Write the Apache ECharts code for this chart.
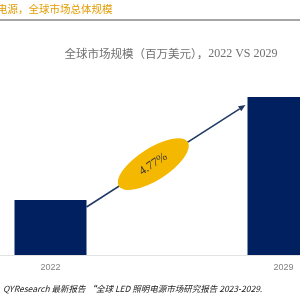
<!DOCTYPE html>
<html>
<head>
<meta charset="utf-8">
<script src="https://cdn.jsdelivr.net/npm/echarts@6/dist/echarts.min.js"></script>
<style>
  html, body { margin: 0; padding: 0; background: #fff; }
  #chart { width: 300px; height: 300px; }
</style>
</head>
<body>
<div id="chart"></div>
<script>
const years = ['2022', '2029'];
const marketSize = [55, 158];
const cagrLabel = '4.77%';

const chartDom = document.getElementById('chart');
const myChart = echarts.init(chartDom);

const option = {
    animation: false,
    title: {
        text: '{a|全球市场规模（百万美元），}{b|2022 VS 2029}',
        left: 166,
        textAlign: 'center',
        top: 43,
        textStyle: {
            fontWeight: 'normal',
            rich: {
                a: { fontSize: 11.5, color: '#707070', fontWeight: 'normal', fontFamily: 'Noto Sans CJK SC' },
                b: { fontSize: 12, color: '#707070', fontWeight: 'normal', fontFamily: 'Liberation Serif' }
            }
        }
    },
    grid: {
        left: -66,
        width: 466,
        top: 55,
        bottom: 45,
        outerBoundsMode: 'none',
        containLabel: false
    },
    xAxis: {
        type: 'category',
        data: years,
        axisTick: { show: false },
        axisLine: { lineStyle: { color: '#e3e3e3' } },
        axisLabel: { color: '#808080', fontSize: 9, margin: 8 }
    },
    yAxis: {
        type: 'value',
        min: 0,
        max: 200,
        show: false,
        splitLine: { show: false }
    },
    series: [
        {
            type: 'bar',
            data: marketSize,
            barWidth: 72,
            itemStyle: { color: '#002060' }
        }
    ]
};
myChart.setOption(option);

// arrow + CAGR ellipse placed from the bar positions
const p0 = myChart.convertToPixel({ seriesIndex: 0 }, [0, marketSize[0]]);
const p1 = myChart.convertToPixel({ seriesIndex: 0 }, [1, marketSize[1]]);
const x1 = p0[0] + 36, y1 = p0[1] + 7;
const x2 = p1[0] - 38, y2 = p1[1] + 8;
const ang = Math.atan2(y1 - y2, x2 - x1);
const t = 0.42;
const cx = x1 + (x2 - x1) * t, cy = y1 + (y2 - y1) * t;
const ah = 7, aw = 3;
const ux = Math.cos(ang), uy = -Math.sin(ang);

myChart.setOption({
    graphic: [
        {
            type: 'text',
            left: -3,
            top: 4,
            style: { text: '电源，全球市场总体规模', fill: '#e39b00', font: '10.5px "Noto Sans CJK SC"' }
        },
        {
            type: 'line',
            shape: { x1: 0, y1: 20, x2: 300, y2: 20 },
            style: { stroke: '#a6a6a6', lineWidth: 2 }
        },
        {
            type: 'line',
            shape: { x1: x1, y1: y1, x2: x2 - ux * ah, y2: y2 - uy * ah },
            style: { stroke: '#1f3864', lineWidth: 1.5 }
        },
        {
            type: 'polygon',
            shape: {
                points: [
                    [x2, y2],
                    [x2 - ux * ah - uy * aw, y2 - uy * ah + ux * aw],
                    [x2 - ux * ah + uy * aw, y2 - uy * ah - ux * aw]
                ]
            },
            style: { fill: '#1f3864' }
        },
        {
            type: 'group',
            x: cx,
            y: cy,
            rotation: ang,
            children: [
                {
                    type: 'circle',
                    scaleX: 41 / 16,
                    shape: { cx: 0, cy: 0, r: 16 },
                    style: { fill: '#f5b800' }
                },
                {
                    type: 'text',
                    x: 0,
                    y: 0,
                    style: {
                        text: cagrLabel,
                        align: 'center',
                        verticalAlign: 'middle',
                        fill: '#333',
                        font: '12px "Liberation Serif"'
                    }
                }
            ]
        },
        {
            type: 'text',
            left: 3,
            top: 285,
            style: {
                text: 'QYResearch 最新报告 “全球 LED 照明电源市场研究报告 2023-2029.',
                fill: '#222',
                font: 'italic 8.5px "Noto Sans CJK SC"'
            }
        }
    ]
});
</script>
</body>
</html>
